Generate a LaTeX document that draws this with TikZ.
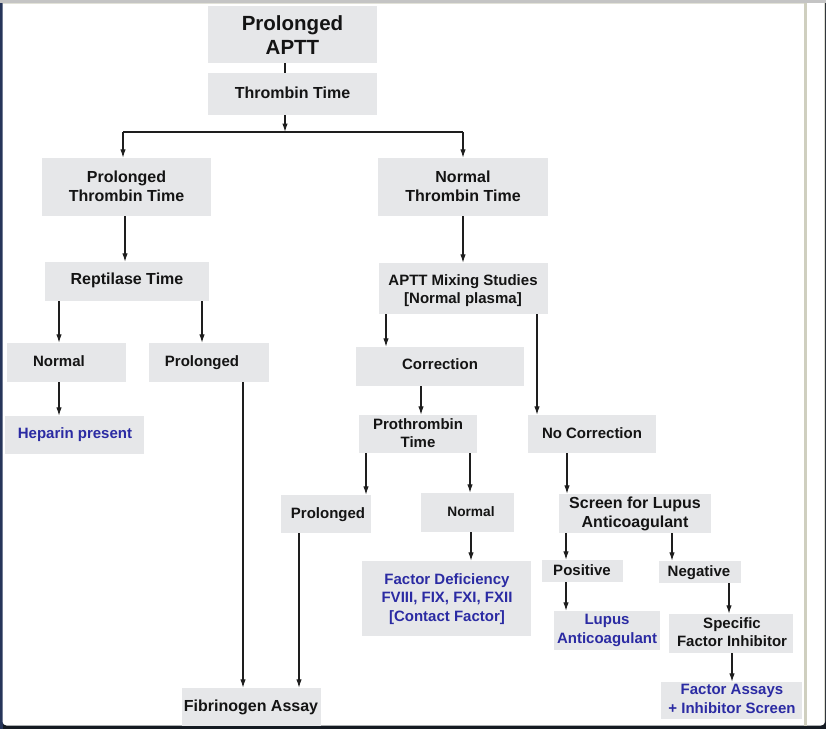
\documentclass[tikz,border=0pt]{standalone}
\usepackage{fontspec}
\setmainfont{Liberation Sans}
\usetikzlibrary{arrows.meta,fit}
\definecolor{boxgray}{HTML}{E6E7E9}
\definecolor{txtblue}{HTML}{2B2BA3}
\definecolor{linecol}{HTML}{1E1E1E}
\definecolor{framedark}{HTML}{141A22}
\definecolor{framenavy}{HTML}{26355A}
\definecolor{topgray}{HTML}{C4C4C4}
\definecolor{edgegray}{HTML}{CFCFBF}
\newcommand\boxat[5]{\node[box, fit={(#2,#3) (#4,#5)}] (#1) {};}
\begin{document}
\begin{tikzpicture}[x=1pt,y=-1pt,
  box/.style={fill=boxgray, inner sep=0pt, draw=none},
  txt/.style={font=\bfseries\fontsize{15}{18.5}\selectfont, align=center, inner sep=0pt, text=black!92},
  txsixteen/.style={font=\bfseries\fontsize{16}{19}\selectfont},
  txtitle/.style={font=\bfseries\fontsize{20.5}{24}\selectfont},
  txsmall/.style={font=\bfseries\fontsize{13.7}{16}\selectfont},
  bluetxt/.style={text=txtblue},
  arr/.style={draw=linecol, line width=1.2pt, -{Latex[length=8.5pt,width=5.5pt]}},
  ln/.style={draw=linecol, line width=1.2pt}]
\useasboundingbox (0,0) rectangle (826,729);
% frame of the screenshot
\fill[framedark] (0,0) rectangle (826,729);
\fill[framenavy] (0,0) rectangle (2.5,729);
\fill[white, rounded corners=4pt] (2.5,-5) rectangle (825,725.5);
\fill[topgray] (0,0) rectangle (826,3);
\fill[edgegray!60] (2.5,3) rectangle (805,4);
\fill[edgegray] (804,3) rectangle (806.5,725.5);
\fill[edgegray!70] (824,3) rectangle (825,722);
% boxes
\boxat{apt}{208}{6}{377}{63}
\boxat{tt}{208}{73}{377}{115}
\boxat{ptt}{42}{158}{211}{216}
\boxat{ntt}{378}{158}{548}{216}
\boxat{rep}{45}{262}{209}{301}
\boxat{rn}{7}{343}{126}{382}
\boxat{rp}{149}{343}{269}{382}
\boxat{hep}{5}{416}{144}{454}
\boxat{fib}{182}{688}{321}{726}
\boxat{mix}{379}{263}{548}{314}
\boxat{cor}{356}{347}{524}{386}
\boxat{pt}{359}{415}{477}{453}
\boxat{noc}{528}{415}{656}{453}
\boxat{ptp}{281}{495}{371}{533}
\boxat{ptn}{421}{493}{514}{532}
\boxat{lup}{559}{494}{711}{533}
\boxat{fd}{362}{561}{531}{636}
\boxat{pos}{542}{560}{623}{582}
\boxat{neg}{659}{561}{741}{583}
\boxat{la}{554}{611}{660}{650}
\boxat{sfi}{669}{614}{793}{653}
\boxat{fa}{661}{682}{802}{719}
% texts
\node[txt,txtitle] (aptT) at (292.5,35) {Prolonged\\APTT};
\node[txt,txsixteen] (ttT) at (292.5,93) {Thrombin Time};
\node[txt,txsixteen] (pttT) at (126.5,186) {Prolonged\\Thrombin Time};
\node[txt,txsixteen] (nttT) at (463,186) {Normal\\Thrombin Time};
\node[txt,txsixteen] (repT) at (127,280.5) {Reptilase Time};
\node[txt] (rnT) at (59,361) {Normal};
\node[txt] (rpT) at (202,362.5) {Prolonged};
\node[txt,bluetxt] (hepT) at (75,434.5) {Heparin present};
\node[txt,txsixteen] (fibT) at (251,707) {Fibrinogen Assay};
\node[txt] (mixT) at (463,290.6) {APTT Mixing Studies\\{[}Normal plasma{]}};
\node[txt] (corT) at (440,364) {Correction};
\node[txt] (ptT) at (418,433) {Prothrombin\\Time};
\node[txt] (nocT) at (592,433) {No Correction};
\node[txt] (ptpT) at (328,514.6) {Prolonged};
\node[txt,txsmall] (ptnT) at (471,512) {Normal};
\node[txt,txsixteen] (lupT) at (635,514) {Screen for Lupus\\Anticoagulant};
\node[txt,bluetxt] (fdT) at (447,599) {Factor Deficiency\\FVIII, FIX, FXI, FXII\\{[}Contact Factor{]}};
\node[txt] (posT) at (582,570) {Positive};
\node[txt] (negT) at (699,572.6) {Negative};
\node[txt,bluetxt] (laT) at (607,630.6) {Lupus\\Anticoagulant};
\node[txt] (sfiT) at (732,632) {Specific\\Factor Inhibitor};
\node[txt,bluetxt] (faT) at (732,699) {Factor Assays\\+ Inhibitor Screen};
% connectors
\coordinate (jn) at (285,132);
\coordinate (jl) at (123,132);
\coordinate (jr) at (463,132);
\draw[ln] (apt.south -| jn) -- (tt.north -| jn);
\draw[arr] (tt.south -| jn) -- (jn);
\draw[ln] (jl) -- (jr);
\draw[arr] (jl) -- (ptt.north -| jl);
\draw[arr] (jr) -- (ntt.north -| jr);
\draw[arr] (ptt.south -| 125,0) -- (rep.north -| 125,0);
\draw[arr] (ntt.south -| 463,0) -- (mix.north -| 463,0);
\draw[arr] (rep.south -| rnT) -- (rn.north -| rnT);
\draw[arr] (rep.south -| rpT) -- (rp.north -| rpT);
\draw[arr] (rn.south -| rnT) -- (hep.north -| rnT);
\draw[arr] (rp.south -| 243,0) -- (fib.north -| 243,0);
\draw[arr] (ptp.south -| 299,0) -- (fib.north -| 299,0);
\draw[arr] (mix.south -| 386,0) -- (cor.north -| 386,0);
\draw[arr] (mix.south -| 537,0) -- (noc.north -| 537,0);
\draw[arr] (cor.south -| 421,0) -- (pt.north -| 421,0);
\draw[arr] (pt.south -| 366,0) -- (ptp.north -| 366,0);
\draw[arr] (pt.south -| 470,0) -- (ptn.north -| 470,0);
\draw[arr] (ptn.south -| 471,0) -- (fd.north -| 471,0);
\draw[arr] (noc.south -| 567,0) -- (lup.north -| 567,0);
\draw[arr] (lup.south -| 566,0) -- (pos.north -| 566,0);
\draw[arr] (lup.south -| 672,0) -- (neg.north -| 672,0);
\draw[arr] (pos.south -| 566,0) -- (la.north -| 566,0);
\draw[arr] (neg.south -| 729,0) -- (sfi.north -| 729,0);
\draw[arr] (sfi.south -| 732,0) -- (fa.north -| 732,0);
\end{tikzpicture}
\end{document}
